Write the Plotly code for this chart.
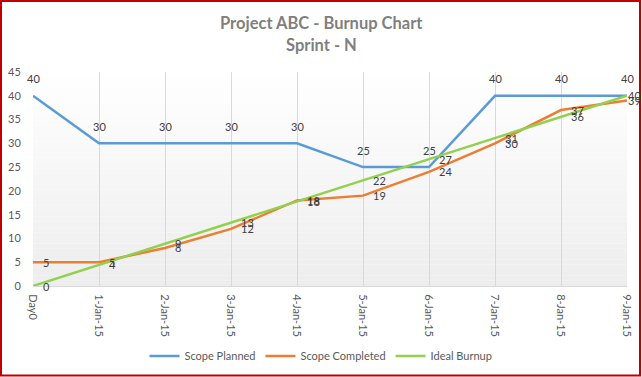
import plotly.graph_objects as go

# ---- data ----
days = ["Day0", "1-Jan-15", "2-Jan-15", "3-Jan-15", "4-Jan-15", "5-Jan-15",
        "6-Jan-15", "7-Jan-15", "8-Jan-15", "9-Jan-15"]
scope_planned = [40, 30, 30, 30, 30, 25, 25, 40, 40, 40]
scope_completed = [5, 5, 8, 12, 18, 19, 24, 30, 37, 39]
ideal_burnup = [0, 4.44, 8.89, 13.33, 17.78, 22.22, 26.67, 31.11, 35.56, 40]
y_ticks = [0, 5, 10, 15, 20, 25, 30, 35, 40, 45]

W, H = 642, 377
L, R, T, B = 33, 15, 72, 91
PW, PH = W - L - R, H - T - B

def px(x):
    return (x - L) / PW

def py(y):
    return (H - B - y) / PH

FONT = "Lato"
BLUE, ORANGE, GREEN = "#5B9BD5", "#ED7D31", "#92D050"
LABEL = "#404040"

fig = go.Figure()
fig.add_trace(go.Scatter(x=days, y=scope_planned, mode="lines", name="Scope Planned",
                         line=dict(color=BLUE, width=2.5)))
fig.add_trace(go.Scatter(x=days, y=scope_completed, mode="lines", name="Scope Completed",
                         line=dict(color=ORANGE, width=2.5)))
fig.add_trace(go.Scatter(x=days, y=ideal_burnup, mode="lines", name="Ideal Burnup",
                         line=dict(color=GREEN, width=2.5)))

annotations = []
for d, v in zip(days, scope_planned):
    annotations.append(dict(x=d, y=v, xref="x", yref="y", text=str(round(v)), showarrow=False,
                            yshift=17, yanchor="middle", xanchor="center",
                            font=dict(family=FONT, size=11, color=LABEL)))
last = len(days) - 1
for series in (scope_completed, ideal_burnup):
    for i, (d, v) in enumerate(zip(days, series)):
        annotations.append(dict(x=d, y=v, xref="x", yref="y", text=str(round(v)), showarrow=False,
                                xshift=8 if i < last else -1, yanchor="middle", xanchor="left",
                                font=dict(family=FONT, size=11, color=LABEL)))

# titles
for txt, yy in (("<b>Project ABC - Burnup Chart</b>", 23), ("<b>Sprint - N</b>", 45)):
    annotations.append(dict(x=px(W / 2), y=py(yy), xref="paper", yref="paper",
                            xanchor="center", yanchor="middle", text=txt, showarrow=False,
                            font=dict(family=FONT, size=16.5, color="#7F7F7F")))

# gradient background of the plot area
shapes = []
N = 40
top_c, bot_c = (255, 255, 255), (237, 237, 237)
for i in range(N):
    f = (i + 0.5) / N
    c = tuple(round(bot_c[k] + (top_c[k] - bot_c[k]) * f) for k in range(3))
    shapes.append(dict(type="rect", xref="paper", yref="paper", x0=0, x1=1,
                       y0=i / N, y1=(i + 1) / N, line=dict(width=0),
                       fillcolor="rgb(%d,%d,%d)" % c, layer="below"))
# outer border
shapes.append(dict(type="rect", xref="paper", yref="paper",
                   x0=px(1), x1=px(640), y0=py(375.5), y1=py(1),
                   line=dict(color="#C00000", width=2), fillcolor="rgba(0,0,0,0)", layer="above"))

fig.update_layout(
    width=W, height=H,
    margin=dict(l=L, r=R, t=T, b=B, autoexpand=False),
    paper_bgcolor="white",
    plot_bgcolor="rgba(0,0,0,0)",
    font=dict(family=FONT, size=11, color="#595959"),
    showlegend=True,
    legend=dict(orientation="h", x=px(W / 2), xanchor="center", y=py(356), yanchor="middle",
                font=dict(family=FONT, size=11, color="#595959"), bgcolor="rgba(0,0,0,0)",
                itemwidth=30),
    annotations=annotations,
    shapes=shapes,
)
fig.update_xaxes(type="category", range=[0, 9], showgrid=True, gridcolor="#D9D9D9", gridwidth=1,
                 showline=True, linecolor="#D9D9D9", linewidth=1, tickangle=90,
                 ticks="outside", ticklen=5, tickcolor="rgba(0,0,0,0)", automargin=False,
                 tickfont=dict(family=FONT, size=11, color="#595959"), zeroline=False)
fig.update_yaxes(range=[0, 45], tickvals=y_ticks, showgrid=False, zeroline=False, showline=False,
                 ticks="outside", ticklen=9, tickcolor="rgba(0,0,0,0)", automargin=False,
                 tickfont=dict(family=FONT, size=11, color="#595959"))

fig.write_html("out.html", config={"displayModeBar": False},
               post_script="document.body.style.margin='0';document.body.style.padding='0';"
                           "document.body.style.overflow='hidden';")
